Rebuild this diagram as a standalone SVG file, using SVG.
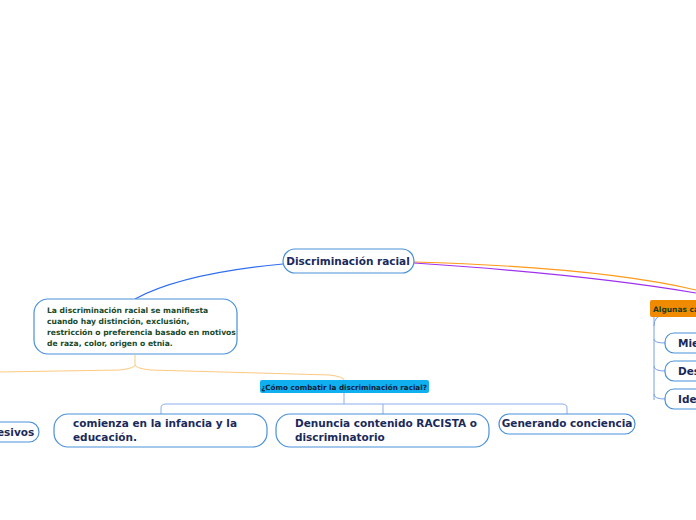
<svg xmlns="http://www.w3.org/2000/svg" width="696" height="520" viewBox="0 0 696 520">
<style>
text{font-family:"DejaVu Sans","Noto Sans",sans-serif;font-weight:bold}
.n{fill:#fff;stroke:#4a90d9;stroke-width:1.2}
.t{fill:#1a2a5a;font-size:10.5px}
.c{fill:none}
</style>
<rect width="696" height="520" fill="#fff"/>
<g id="connectors">
<path class="c" d="M283 264 C220 270 170 280 135 299" stroke="#2f6ff0" stroke-width="1.2"/>
<path class="c" d="M414 262 C520 265 620 272 696 290" stroke="#ff9a1a" stroke-width="1.2"/>
<path class="c" d="M414 263 C520 270 620 280 696 293" stroke="#a030f0" stroke-width="1.2"/>
<path class="c" d="M135 355 L135 365 Q135 368 120 370 L0 372 M135 365 Q135 368 150 370 L330 375 Q344 377 344 380" stroke="#ffc880" stroke-width="1"/>
<path class="c" d="M344 392 L344 404 M161 414 L161 408 Q161 404 166 404 L562 404 Q567 404 567 408 L567 414 M383 404 L383 414" stroke="#8aaee8" stroke-width="1"/>
<path class="c" d="M654 316 L654 400 M654 326 Q654 315 665 315 M654 339 Q654 343 665 343 M654 366 Q654 371 665 371 M654 394 Q654 399 665 399" stroke="#7a9fe6" stroke-width="1"/>
</g>
<g id="root"><rect class="n" x="283" y="249" width="131" height="24" rx="12"/><text class="t" x="348" y="265" text-anchor="middle" font-size="10">Discriminación racial</text></g>
<g id="def"><rect class="n" x="34" y="299" width="203" height="55" rx="14" stroke="#2f6ff0"/>
<text fill="#1a4a2a" font-size="7.6"><tspan x="47" y="313">La discriminación racial se manifiesta</tspan><tspan x="47" y="324">cuando hay distinción, exclusión,</tspan><tspan x="47" y="335">restricción o preferencia basado en motivos</tspan><tspan x="47" y="346">de raza, color, origen o etnia.</tspan></text></g>
<g id="como"><rect x="260" y="380" width="169" height="13" rx="2" fill="#10b0f0"/><text x="344" y="390" text-anchor="middle" font-size="7.2" fill="#0a1a3a">¿Cómo combatir la discriminación racial?</text></g>
<g id="n1"><rect class="n" x="54" y="414" width="213" height="33" rx="14"/><text class="t"><tspan x="73" y="427">comienza en la infancia y la</tspan><tspan x="73" y="441">educación.</tspan></text></g>
<g id="n2"><rect class="n" x="276" y="414" width="213" height="33" rx="14"/><text class="t"><tspan x="295" y="427">Denuncia contenido RACISTA o</tspan><tspan x="295" y="441">discriminatorio</tspan></text></g>
<g id="n3"><rect class="n" x="499" y="414" width="136" height="20" rx="10"/><text class="t" x="567" y="427" text-anchor="middle">Generando conciencia</text></g>
<g id="n4"><rect class="n" x="-30" y="422" width="69" height="20" rx="10"/><text class="t" x="-3" y="436">esivos</text></g>
<g id="alg"><rect x="650" y="300" width="60" height="17" rx="2" fill="#f08a00"/><text x="653" y="312" font-size="7.5" fill="#1a3a1a">Algunas ca</text></g>
<g id="m1"><rect class="n" x="665" y="333" width="50" height="20" rx="9"/><text class="t" x="678" y="347">Mie</text></g>
<g id="m2"><rect class="n" x="665" y="361" width="50" height="20" rx="9"/><text class="t" x="678" y="375">Des</text></g>
<g id="m3"><rect class="n" x="665" y="389" width="50" height="20" rx="9"/><text class="t" x="678" y="403">Ide</text></g>
</svg>
